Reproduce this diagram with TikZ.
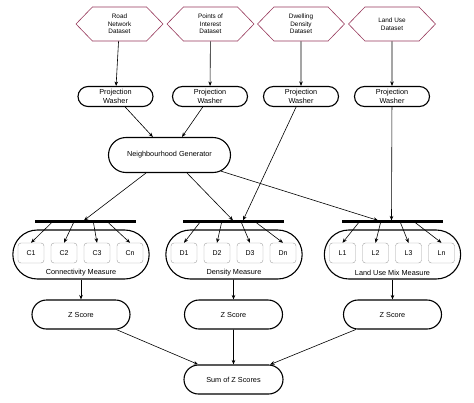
\documentclass[tikz,border=0pt]{standalone}
\usepackage{fontspec}
\setmainfont{Liberation Sans}
\usetikzlibrary{arrows.meta, shapes.misc, shapes.symbols, calc}

\definecolor{hexred}{RGB}{150,55,90}

\begin{document}
\begin{tikzpicture}[x=1pt, y=-1pt, >={Stealth[length=4.5pt, width=3.6pt]},
			dataset/.style={draw=hexred, line width=0.6pt, signal, signal to=west and east, signal pointer angle=92,
				minimum width=87pt, minimum height=34pt, inner sep=0pt, align=center,
				font=\fontsize{6.4}{7.6}\selectfont},
			pill/.style={draw, rounded rectangle, line width=1.1pt, inner sep=0pt, align=center,
				font=\fontsize{7.3}{8.4}\selectfont},
			washer/.style={pill, minimum width=75pt, minimum height=20pt},
			measure/.style={draw, rounded rectangle, line width=1.1pt, minimum width=143pt, minimum height=49pt},
			score/.style={pill, minimum width=98pt, minimum height=29pt},
			item/.style={draw=gray!75, rounded corners=3pt, minimum width=26pt, minimum height=20pt,
				inner sep=0pt, font=\fontsize{7}{8}\selectfont},
			bar/.style={fill, minimum width=101pt, minimum height=2.2pt, inner sep=0pt},
			link/.style={->, line width=0.6pt}]
			
			\useasboundingbox (0,0) rectangle (474,402);
			
			% Input datasets
			\node[dataset] (road) at (119.5,24) {Road\\Network\\Dataset};
			\node[dataset] (poi) at (210.5,24) {Points of\\Interest\\Dataset};
			\node[dataset] (dwell) at (301,24) {Dwelling\\Density\\Dataset};
			\node[dataset] (landuse) at (392,24) {Land Use\\Dataset};
			
			% Projection washers
			\node[washer] (pw1) at (115.5,96.5) {Projection\\Washer};
			\node[washer] (pw2) at (210,96.5) {Projection\\Washer};
			\node[washer] (pw3) at (301,96.5) {Projection\\Washer};
			\node[washer] (pw4) at (392,96.5) {Projection\\Washer};
			
			\draw[link] (road) -- (pw1);
			\draw[link] (poi) -- (pw2);
			\draw[link] (dwell) -- (pw3);
			\draw[link] (landuse) -- (pw4);
			
			% Neighbourhood generator
			\node[pill, minimum width=122pt, minimum height=35pt] (ng) at (169.5,155) {Neighbourhood Generator};
			\draw[link] (pw1) -- (ng);
			\draw[link] (pw2) -- (ng);
			
			% Measures with their bars and components
			\foreach \g/\cx/\bx/\tag/\lab in {c/81/85.5/C/Connectivity Measure,
				d/234/233.5/D/Density Measure, l/392.5/392.5/L/Land Use Mix Measure} {
				\node[measure] (m\g) at (\cx,254.5) {};
				\node[font=\fontsize{7.3}{8.4}\selectfont] (lab\g) at (\cx,273) {\lab};
				\node[bar] (bar\g) at (\bx,221.5) {};
				\foreach \i/\dx/\sx/\n in {1/-50/-34/1, 2/-17/-12/2, 3/16/8/3, 4/49/23/n} {
					\node[item] (box\g\i) at (\cx+\dx,253) {\tag\n};
					\draw[link] ($(bar\g.south)+(\sx,0)$) -- (box\g\i.north);
				}
			}
			
			% Inputs to the bars
			\coordinate (inc) at (84,220.4);
			\coordinate (ind) at (233,220.4);
			\coordinate (indw) at (243,220.4);
			\coordinate (inl) at (378,220.4);
			\coordinate (inlu) at (391.5,220.4);
			\draw[link] (ng) -- (inc);
			\draw[link] (ng) -- (ind);
			\draw[link] (ng) -- (inl);
			\draw[link] (pw3) -- (indw);
			\draw[link] (pw4) -- (inlu);
			
			% Z scores
			\node[score] (zc) at (81,314.5) {Z Score};
			\node[score] (zd) at (233.5,314.5) {Z Score};
			\node[score] (zl) at (392.5,314.5) {Z Score};
			\draw[link] (mc) -- (zc);
			\draw[link] (md.south -| zd) -- (zd);
			\draw[link] (ml) -- (zl);
			
			% Sum
			\node[score, minimum width=99pt] (sum) at (233.5,379.5) {Sum of Z Scores};
			\draw[link] (zc) -- (sum);
			\draw[link] (zd) -- (sum);
			\draw[link] (zl) -- (sum);
		\end{tikzpicture}
\end{document}
